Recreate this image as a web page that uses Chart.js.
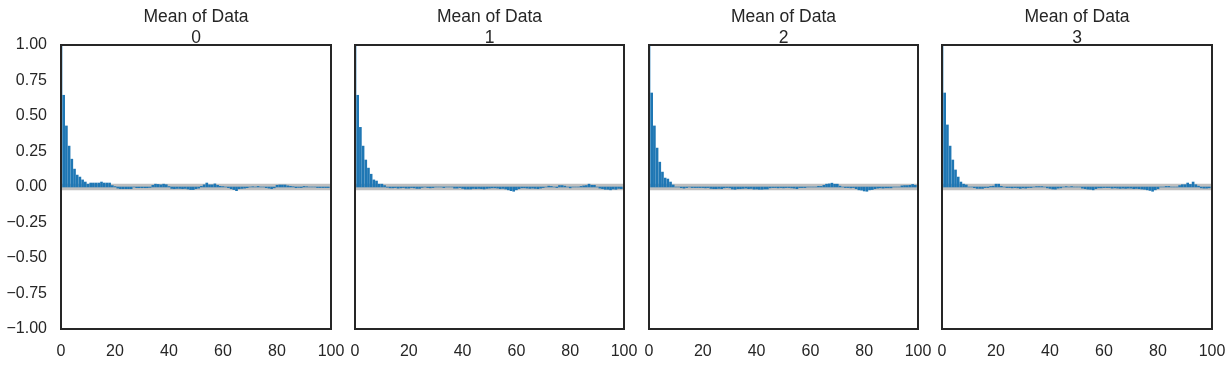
<!DOCTYPE html>
<html>
<head>
<meta charset="utf-8">
<script src="https://cdn.jsdelivr.net/npm/chart.js@4.4.0/dist/chart.umd.min.js"></script>
<style>
  html, body { margin: 0; padding: 0; background: #fff; }
  #lienzo { position: relative; width: 1232px; height: 365px; overflow: hidden; }
  #lienzo canvas { position: absolute; top: 0; }
</style>
</head>
<body>
<div id="lienzo"></div>
<script>
// Autocorrelación de la media (lags 0..99)
const titulos = ["0", "1", "2", "3"];
const ticksX = [0, 20, 40, 60, 80, 100];
const ticksY = [-1, -0.75, -0.5, -0.25, 0, 0.25, 0.5, 0.75, 1];
const banda = 0.023;

const autocorr0 = [
  1.0, 0.646, 0.43, 0.288, 0.196, 0.126, 0.084, 0.07, 0.05, 0.035,
  0.02, 0.028, 0.028, 0.028, 0.028, 0.035, 0.028, 0.028, 0.028, 0.01,
  0.003, -0.008, -0.012, -0.012, -0.012, -0.012, -0.012, 0.0, -0.005, -0.005,
  -0.005, -0.005, -0.005, -0.003, 0.012, 0.02, 0.018, 0.015, 0.02, 0.016,
  0.003, -0.01, -0.012, -0.01, -0.01, -0.012, -0.01, -0.014, -0.018, -0.018,
  -0.012, -0.008, 0.005, 0.015, 0.028, 0.015, 0.015, 0.022, 0.012, 0.005,
  0.003, 0.0, -0.005, -0.012, -0.018, -0.026, -0.012, -0.01, -0.008, -0.005,
  0.0, 0.002, 0.0, 0.004, 0.0, 0.0, -0.005, -0.008, -0.012, -0.006,
  0.012, 0.014, 0.014, 0.014, 0.008, 0.005, 0.002, -0.005, -0.003, -0.004,
  0.004, 0.002, 0.0, 0.0, 0.0, -0.004, -0.004, -0.004, -0.004, -0.004
];
const autocorr1 = [
  1.0, 0.646, 0.42, 0.288, 0.19, 0.133, 0.09, 0.05, 0.042, 0.02,
  0.02, 0.01, -0.002, -0.006, -0.006, -0.004, -0.008, -0.006, -0.004, -0.008,
  -0.008, -0.004, -0.006, -0.01, -0.01, -0.003, 0.0, -0.004, -0.006, -0.004,
  0.0, 0.0, 0.0, -0.004, 0.0, 0.0, 0.0, -0.008, -0.008, -0.004,
  -0.01, -0.014, -0.014, -0.014, -0.01, -0.012, -0.01, -0.012, -0.014, -0.01,
  -0.008, -0.006, -0.006, -0.008, -0.012, -0.01, -0.014, -0.02, -0.026, -0.03,
  -0.02, -0.012, -0.006, -0.006, -0.008, -0.01, -0.008, -0.01, -0.012, -0.008,
  -0.004, 0.0, 0.006, 0.004, 0.0, -0.004, 0.01, 0.01, 0.006, 0.0,
  -0.006, 0.0, 0.0, 0.0, 0.004, 0.008, 0.01, 0.02, 0.012, 0.012,
  0.0, -0.008, -0.012, -0.016, -0.016, -0.02, -0.014, -0.016, -0.01, -0.012
];
const autocorr2 = [
  1.0, 0.662, 0.43, 0.274, 0.175, 0.105, 0.063, 0.056, 0.035, 0.014,
  0.0, 0.0, -0.005, -0.008, -0.004, 0.0, -0.004, -0.004, -0.004, -0.004,
  -0.004, -0.006, -0.004, -0.01, -0.012, -0.012, -0.01, -0.012, -0.006, -0.004,
  -0.006, -0.014, -0.016, -0.012, -0.012, -0.01, -0.008, -0.012, -0.01, -0.015,
  -0.014, -0.016, -0.016, -0.014, -0.014, -0.006, -0.004, -0.004, -0.006, -0.004,
  -0.006, -0.004, -0.004, -0.006, -0.008, -0.012, -0.004, -0.004, -0.004, 0.0,
  0.0, 0.0, 0.0, 0.005, 0.004, 0.012, 0.02, 0.022, 0.027, 0.02,
  0.02, 0.006, 0.0, -0.004, -0.004, -0.006, -0.004, -0.012, -0.02, -0.022,
  -0.028, -0.03, -0.02, -0.018, -0.012, -0.008, -0.006, -0.008, -0.006, -0.006,
  -0.006, 0.0, 0.0, 0.0, 0.008, 0.01, 0.01, 0.012, 0.018, 0.012
];
const autocorr3 = [
  1.0, 0.662, 0.437, 0.288, 0.19, 0.12, 0.07, 0.035, 0.02, 0.014,
  0.0, 0.0, -0.005, -0.01, -0.01, -0.01, -0.004, -0.004, 0.004, 0.006,
  0.02, 0.02, 0.005, 0.0, -0.004, -0.004, -0.006, -0.004, -0.006, -0.01,
  -0.006, -0.008, -0.004, -0.004, 0.0, 0.003, 0.003, 0.003, 0.0, -0.006,
  -0.01, -0.014, -0.015, -0.008, -0.006, 0.0, 0.003, 0.0, 0.003, 0.0,
  0.0, 0.0, -0.008, -0.012, -0.015, -0.016, -0.02, -0.012, -0.006, -0.006,
  -0.004, -0.004, -0.004, -0.008, -0.006, -0.008, -0.01, -0.008, -0.01, -0.008,
  -0.008, -0.012, -0.01, -0.012, -0.014, -0.016, -0.02, -0.024, -0.03, -0.02,
  -0.012, 0.0, 0.0, 0.004, 0.004, 0.0, 0.0, 0.0, 0.01, 0.016,
  0.016, 0.028, 0.018, 0.035, 0.016, 0.006, -0.006, -0.008, -0.008, -0.006
];
const series = [autocorr0, autocorr1, autocorr2, autocorr3];

// Posición de cada panel: borde izquierdo y derecho del área de trazado
const paneles = [
  { izq: 61, der: 331, anchoEjeY: 61 },
  { izq: 355, der: 624, anchoEjeY: 10 },
  { izq: 649, der: 918, anchoEjeY: 10 },
  { izq: 942, der: 1212, anchoEjeY: 10 }
];

const fuente = "'Liberation Sans', Arial, sans-serif";
const colorTexto = "#262626";

// Marco completo alrededor del área de trazado
const marco = {
  id: "marco",
  afterDraw(chart) {
    const a = chart.chartArea;
    const ctx = chart.ctx;
    ctx.save();
    ctx.strokeStyle = colorTexto;
    ctx.lineWidth = 2;
    ctx.strokeRect(a.left, a.top, a.right - a.left, a.bottom - a.top);
    ctx.restore();
  }
};

const lienzo = document.getElementById("lienzo");

paneles.forEach((p, i) => {
  const canvas = document.createElement("canvas");
  const ancho = p.anchoEjeY + (p.der - p.izq) + 20;
  canvas.width = ancho;
  canvas.height = 365;
  canvas.style.width = ancho + "px";
  canvas.style.height = "365px";
  canvas.style.left = (p.izq - p.anchoEjeY) + "px";
  lienzo.appendChild(canvas);

  const lags = series[i].map((v, k) => ({ x: k, y: v }));

  new Chart(canvas.getContext("2d"), {
    type: "bar",
    data: {
      datasets: [
        {
          type: "bar",
          data: lags,
          backgroundColor: "#1f77b4",
          borderWidth: 0,
          barThickness: 2,
          order: 1
        },
        {
          type: "line",
          data: [{ x: 0, y: banda }, { x: 100, y: banda }],
          borderWidth: 0,
          pointRadius: 0,
          backgroundColor: "#bfbfbf",
          fill: { value: -banda },
          order: 2
        }
      ]
    },
    options: {
      responsive: false,
      animation: false,
      devicePixelRatio: 1,
      layout: { padding: { top: 0, right: 20, bottom: 0, left: 0 } },
      plugins: {
        legend: { display: false },
        tooltip: { enabled: false },
        title: {
          display: true,
          fullSize: false,
          text: ["Mean of Data", titulos[i]],
          color: colorTexto,
          font: { family: fuente, size: 17.5, weight: "normal", lineHeight: 1.2 },
          padding: { top: 7, bottom: -4 }
        }
      },
      scales: {
        x: {
          type: "linear",
          offset: false,
          min: 0,
          max: 100,
          afterBuildTicks: (s) => { s.ticks = ticksX.map(v => ({ value: v })); },
          afterFit: (s) => {
            s.height = 36;
            s.paddingLeft = 0;
            s.paddingRight = 0;
          },
          grid: { display: false, drawTicks: false, offset: false },
          border: { display: false },
          ticks: {
            color: colorTexto,
            font: { family: fuente, size: 16 },
            padding: 13,
            maxRotation: 0,
            autoSkip: false
          }
        },
        y: {
          min: -1,
          max: 1,
          afterBuildTicks: (s) => { s.ticks = ticksY.map(v => ({ value: v })); },
          afterFit: (s) => {
            s.width = p.anchoEjeY;
            s.paddingTop = 0;
            s.paddingBottom = 0;
          },
          grid: { display: false, drawTicks: false },
          border: { display: false },
          ticks: {
            display: i === 0,
            color: colorTexto,
            font: { family: fuente, size: 16 },
            padding: 14,
            autoSkip: false,
            callback: (v) => (v < 0 ? "\u2212" : "") + Math.abs(v).toFixed(2)
          }
        }
      }
    },
    plugins: [marco]
  });
});
</script>
</body>
</html>
